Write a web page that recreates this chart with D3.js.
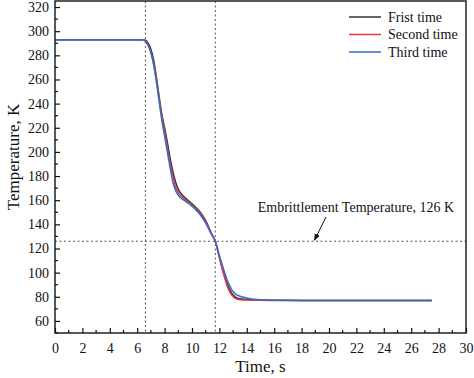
<!DOCTYPE html>
<html><head><meta charset="utf-8">
<script src="https://cdn.jsdelivr.net/npm/d3@7"></script>
<style>body{margin:0;background:#fff}svg{display:block}text{font-family:"Liberation Serif","Times New Roman",serif;fill:#111}</style>
</head><body><svg id="c" width="474" height="378"></svg>
<script>
const times = [0, 6.0, 6.4, 6.6, 6.8, 7.0, 7.2, 7.4, 7.6, 7.8, 8.0, 8.2, 8.4, 8.6, 8.8, 9.0, 9.4, 9.8, 10.2, 10.6, 11.0, 11.4, 11.7, 12.0, 12.3, 12.6, 12.9, 13.2, 13.5, 14.0, 14.5, 15, 16, 18, 20, 22, 24, 26, 27.5];
const firstTime  = [293, 293, 292.9, 292.5, 290, 285, 276, 262, 246, 231, 220, 208, 195, 184, 175, 169, 163, 159, 155, 150, 143, 133, 126, 113, 100, 90, 83, 79.5, 78.3, 77.8, 77.5, 77.3, 77.1, 77, 77, 77, 77, 77, 77];
const secondTime = [293, 293, 292.8, 291.5, 288, 282, 273, 260, 244, 229, 217, 204, 191, 180, 171, 166, 161.5, 158, 154, 149, 142, 132.5, 126, 112, 99, 88, 81.5, 78.5, 77.6, 77.3, 77.2, 77.1, 77, 77, 77, 77, 77, 77, 77];
const thirdTime  = [293, 293, 292.8, 292, 289, 283, 272, 258, 242, 226, 213, 200, 187, 175, 168, 164, 160, 157, 153, 148, 141, 132, 126, 114, 103, 93, 86, 82, 80.5, 79, 78, 77.5, 77.2, 77, 77, 77, 77, 77, 77];
const seriesNames = ["Frist time", "Second time", "Third time"];
const seriesColors = ["#333333", "#e8383a", "#2f6fcf"];
const xTicks = d3.range(0, 31, 2);
const yTicks = d3.range(60, 321, 20);
const embrittlementT = 126;
const markTimes = [6.6, 11.7];

const svg = d3.select("#c");
const L = 55, R = 466, T = 1, B = 333;
const x = d3.scaleLinear().domain([0, 30]).range([L, R]);
const y = d3.scaleLinear().domain([50, 325]).range([B, T]);

// dashed guides
const g0 = svg.append("g").attr("stroke", "#555").attr("stroke-width", 1).attr("stroke-dasharray", "2,2.5");
markTimes.forEach(t => g0.append("line").attr("x1", x(t)).attr("x2", x(t)).attr("y1", T).attr("y2", B));
g0.append("line").attr("x1", L).attr("x2", R).attr("y1", y(embrittlementT)).attr("y2", y(embrittlementT));

// lines
const data = [firstTime, secondTime, thirdTime];
const line = d3.line().x((d, i) => x(times[i])).y(d => y(d)).curve(d3.curveMonotoneX);
data.forEach((s, k) => {
  svg.append("path").attr("d", line(s)).attr("fill", "none")
    .attr("stroke", seriesColors[k]).attr("stroke-width", 1.5);
});

// frame
svg.append("rect").attr("x", L).attr("y", T).attr("width", R - L).attr("height", B - T)
  .attr("fill", "none").attr("stroke", "#222").attr("stroke-width", 1.5);

// axes
const xAx = svg.append("g").attr("transform", `translate(0,${B})`)
  .call(d3.axisBottom(x).tickValues(xTicks).tickSize(-5).tickPadding(10).tickFormat(d3.format("d")));
const yAx = svg.append("g").attr("transform", `translate(${L},0)`)
  .call(d3.axisLeft(y).tickValues(yTicks).tickSize(-5).tickPadding(6).tickFormat(d3.format("d")));
[xAx, yAx].forEach(a => {
  a.select(".domain").remove();
  a.selectAll(".tick line").attr("stroke", "#111").attr("stroke-width", 1.2);
  a.selectAll(".tick text").attr("font-size", 14).attr("font-family", "Liberation Serif").attr("fill", "#111");
});
// minor ticks
const gm = svg.append("g").attr("stroke", "#111").attr("stroke-width", 1.2);
d3.range(1, 30, 2).forEach(t => gm.append("line").attr("x1", x(t)).attr("x2", x(t)).attr("y1", B).attr("y2", B - 3));
d3.range(50, 325, 20).forEach(v => gm.append("line").attr("x1", L).attr("x2", L + 3).attr("y1", y(v)).attr("y2", y(v)));

// axis titles
svg.append("text").attr("x", (L + R) / 2).attr("y", 372).attr("text-anchor", "middle")
  .attr("font-size", 17).text("Time, s");
svg.append("text").attr("transform", "translate(19,157) rotate(-90)").attr("text-anchor", "middle")
  .attr("font-size", 17).text("Temperature, K");

// legend
seriesNames.forEach((n, k) => {
  const yy = 17 + k * 17.5;
  svg.append("line").attr("x1", 349).attr("x2", 381).attr("y1", yy).attr("y2", yy)
    .attr("stroke", seriesColors[k]).attr("stroke-width", 1.5);
  svg.append("text").attr("x", 388).attr("y", yy + 4.5).attr("font-size", 14).text(n);
});

// annotation
svg.append("text").attr("x", 454).attr("y", 212).attr("text-anchor", "end")
  .attr("font-size", 14).text("Embrittlement Temperature, 126 K");
svg.append("defs").append("marker").attr("id", "ah").attr("viewBox", "0 0 10 10")
  .attr("refX", 9).attr("refY", 5).attr("markerWidth", 7).attr("markerHeight", 7).attr("orient", "auto")
  .append("path").attr("d", "M0,1 L10,5 L0,9 Z").attr("fill", "#111");
svg.append("line").attr("x1", 326).attr("y1", 217).attr("x2", 314.5).attr("y2", y(embrittlementT) - 1)
  .attr("stroke", "#111").attr("stroke-width", 1).attr("marker-end", "url(#ah)");
</script></body></html>
